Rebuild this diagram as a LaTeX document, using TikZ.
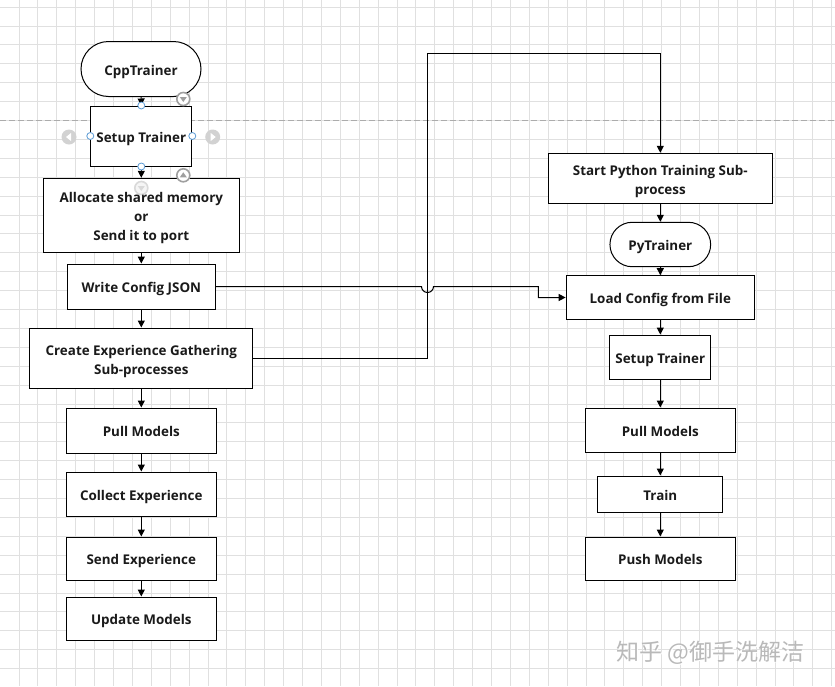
\documentclass[tikz,border=0pt]{standalone}
\usepackage{fontspec}
\setmainfont{Open Sans}
\newfontfamily\cjkfont{Noto Sans CJK SC}
\usetikzlibrary{arrows.meta,calc}
\definecolor{gridc}{HTML}{E0E0E0}
\definecolor{txt}{HTML}{1A1A1A}
\definecolor{handleblue}{HTML}{5B9BD5}
\tikzset{
  box/.style={draw=black, line width=1pt, fill=white, inner sep=1pt, align=center,
    font=\fontsize{13.4}{19}\selectfont\bfseries, text=txt,
    execute at begin node={\rule{0pt}{16.5pt}},
    execute at end node={\rule[-4.5pt]{0pt}{0pt}}},
  term/.style={box},
  mtext/.style={align=center, font=\fontsize{13.4}{19}\selectfont\bfseries, text=txt, inner sep=0pt, yshift=-3.2pt},
  conn/.style={line width=1pt, -{Triangle[length=7pt,width=7pt]}},
  handle/.style={circle, draw=handleblue, fill=white, line width=0.8pt, inner sep=0pt, minimum size=7pt},
  ringbtn/.style={circle, draw=gray!75, fill=white, line width=1.6pt, inner sep=0pt, minimum size=13pt},
  fillbtn/.style={circle, fill=gray!35, inner sep=0pt, minimum size=15pt},
}
\begin{document}
\begin{tikzpicture}[x=1pt,y=-1pt]
\useasboundingbox (0,0) rectangle (835,686);
\fill[white] (0,0) rectangle (835,686);
% grid
\foreach \k in {1,...,44} {\draw[gridc, line width=0.7pt] ({18.9*\k},0) -- ({18.9*\k},686);}
\foreach \k in {0,...,36} {\draw[gridc, line width=0.7pt] (0,{7+18.9*\k}) -- (835,{7+18.9*\k});}
\draw[gray!65, line width=0.8pt, dash pattern=on 6pt off 3pt] (0,120.4) -- (835,120.4);

% left column
\node[term, minimum width=120pt, minimum height=55pt, rounded corners=27.5pt] (cpp) at (141,69) {CppTrainer};
\node[box, minimum width=101pt, minimum height=60pt] (st1) at (141.3,136) {Setup Trainer};
\node[box, minimum width=196pt, minimum height=74pt] (alloc) at (141.3,215.3) {};
\node[box, minimum width=148pt, minimum height=45pt] (wc) at (141.3,286.5) {Write Config JSON};
\node[box, minimum width=223pt, minimum height=60pt] (ceg) at (141.3,358) {};
\node[mtext] (cegt) at (ceg.center) {Create Experience Gathering\\Sub-processes};
\node[box, minimum width=150pt, minimum height=45pt] (pm1) at (141.3,430.5) {Pull Models};
\node[box, minimum width=150pt, minimum height=44pt] (ce) at (141.3,494) {Collect Experience};
\node[box, minimum width=150pt, minimum height=43pt] (se) at (141.3,558.5) {Send Experience};
\node[box, minimum width=150pt, minimum height=43pt] (um) at (141.3,618.5) {Update Models};

\draw[conn] (cpp) -- (st1);
\draw[conn] (st1) -- (alloc);
\draw[conn] (alloc) -- (wc);
\draw[conn] (wc) -- (ceg);
\draw[conn] (ceg) -- (pm1);
\draw[conn] (pm1) -- (ce);
\draw[conn] (ce) -- (se);
\draw[conn] (se) -- (um);

% right column
\node[box, minimum width=224pt, minimum height=50pt] (sp) at (660.3,178.3) {};
\node[mtext] (spt) at (sp.center) {Start Python Training Sub-\\process};
\node[term, minimum width=100.7pt, minimum height=44.4pt, rounded corners=22.2pt] (py) at (660.3,244.5) {PyTrainer};
\node[box, minimum width=188.3pt, minimum height=43.6pt] (lc) at (660.3,297.5) {Load Config from File};
\node[box, minimum width=100.7pt, minimum height=44.3pt] (st2) at (660.3,357.2) {Setup Trainer};
\node[box, minimum width=150pt, minimum height=44pt] (pm2) at (660.3,430) {Pull Models};
\node[box, minimum width=125pt, minimum height=36pt] (tr) at (660.3,494) {Train};
\node[box, minimum width=150pt, minimum height=43pt] (pu) at (660.3,558.5) {Push Models};

\draw[conn] (sp) -- (py);
\draw[conn] (py) -- (lc);
\draw[conn] (lc) -- (st2);
\draw[conn] (st2) -- (pm2);
\draw[conn] (pm2) -- (tr);
\draw[conn] (tr) -- (pu);

% cross connectors
\coordinate (up1) at (427.5,358);
\coordinate (up2) at (427.5,53.3);
\draw[conn] (ceg.east) -- (up1) -- (up2) -- (up2 -| sp.north) -- (sp.north);
\coordinate (j1) at (421.5,286.5);
\coordinate (st) at (538.3,286.5);
\draw[conn] (wc.east) -- (j1) arc[start angle=180, end angle=0, radius=6] -- (st) -- (st |- lc.west) -- (lc.west);

% selection handles
\node[handle] (h1) at (st1.north) {};
\node[handle] (h2) at (st1.south) {};
\node[handle] (h3) at (st1.west) {};
\node[handle] (h4) at (st1.east) {};
\node[ringbtn] (b1) at (183.3,99) {};
\fill[gray!75] ($(b1)+(-3.5,-2)$) -- ($(b1)+(3.5,-2)$) -- ($(b1)+(0,3)$) -- cycle;
\node[ringbtn] (b2) at (183.3,175.3) {};
\fill[gray!75] ($(b2)+(-3.5,2)$) -- ($(b2)+(3.5,2)$) -- ($(b2)+(0,-3)$) -- cycle;
\node[fillbtn] (b3) at (69,137) {};
\fill[white] ($(b3)+(2,-4)$) -- ($(b3)+(2,4)$) -- ($(b3)+(-3,0)$) -- cycle;
\node[fillbtn] (b4) at (212.7,137) {};
\fill[white] ($(b4)+(-2,-4)$) -- ($(b4)+(-2,4)$) -- ($(b4)+(3,0)$) -- cycle;
\node[ringbtn, draw=gray!30, fill=gray!8] (b5) at (141.3,188) {};
\fill[gray!30] ($(b5)+(-3.5,-2)$) -- ($(b5)+(3.5,-2)$) -- ($(b5)+(0,3)$) -- cycle;
\node[mtext] (alloct) at (alloc.center) {Allocate shared memory\\or\\Send it to port};

% watermark
\node[font=\cjkfont\fontsize{23}{26}\selectfont, text=white] (wm0) at (711.5,654) {知乎 @御手洗解洁};
\node[font=\cjkfont\fontsize{23}{26}\selectfont, text=gray!55] (wm) at (710.5,653) {知乎 @御手洗解洁};
\end{tikzpicture}
\end{document}
